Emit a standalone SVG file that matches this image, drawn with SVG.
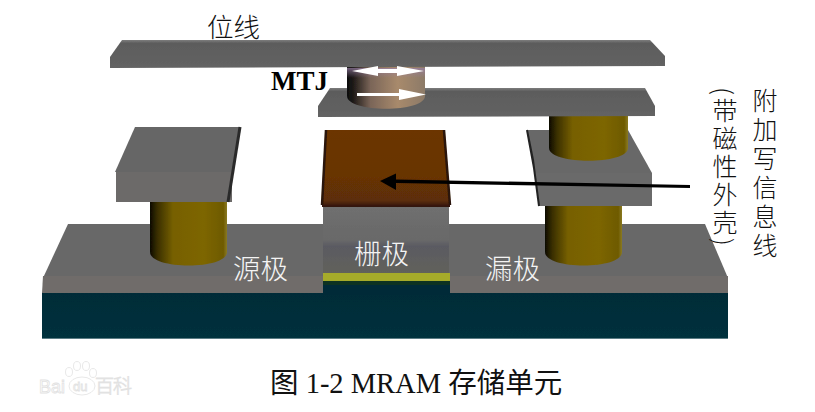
<svg xmlns="http://www.w3.org/2000/svg" width="815" height="412" viewBox="0 0 815 412">
<style>
.cjk{font-family:"Noto Sans CJK SC","Noto Sans CJK JP",sans-serif;font-weight:300}
.w{fill:#f4f4f4;font-size:27.500px}
.k{fill:#111}
.v{writing-mode:vertical-rl;font-size:25px;fill:#111}
.wm{fill:#fff;stroke:#e2e2e2;stroke-width:.8}
</style>
<defs>
<filter id="soft" x="-2%" y="-2%" width="104%" height="104%"><feGaussianBlur stdDeviation=".6"/></filter>
<linearGradient id="gold" x1="0" x2="1" y1="0" y2="0"><stop offset="0" stop-color="#0c0a02"/><stop offset=".1" stop-color="#3b3005"/><stop offset=".3" stop-color="#776000"/><stop offset=".7" stop-color="#7d6600"/><stop offset=".95" stop-color="#6e5a00"/><stop offset="1" stop-color="#8a7a20"/></linearGradient>
<linearGradient id="mtj" x1="0" x2="1" y1="0" y2="0"><stop offset="0" stop-color="#0d0d0d"/><stop offset=".08" stop-color="#1e1a18"/><stop offset=".3" stop-color="#7a6558"/><stop offset=".65" stop-color="#a88a6c"/><stop offset="1" stop-color="#8c7a68"/></linearGradient>
<linearGradient id="mtjv" x1="0" x2="0" y1="0" y2="1"><stop offset="0" stop-color="#9a80a8" stop-opacity=".7"/><stop offset=".45" stop-color="#9a80a8" stop-opacity="0"/></linearGradient>
<linearGradient id="brown" x1="0" x2="0" y1="0" y2="1"><stop offset="0" stop-color="#6c3505"/><stop offset=".6" stop-color="#683406"/><stop offset=".92" stop-color="#5c2d07"/><stop offset="1" stop-color="#2c1208"/></linearGradient>
<linearGradient id="bar" x1="0" x2="0" y1="0" y2="1"><stop offset="0" stop-color="#7d7d7d"/><stop offset=".12" stop-color="#5c5c5c"/><stop offset="1" stop-color="#636363"/></linearGradient>
<linearGradient id="teal" x1="0" x2="0" y1="0" y2="1"><stop offset="0" stop-color="#032c38"/><stop offset=".97" stop-color="#04303c"/><stop offset="1" stop-color="#8aa4ac"/></linearGradient>
<linearGradient id="gate" x1="0" x2="0" y1="0" y2="1"><stop offset="0" stop-color="#6f6f6f"/><stop offset=".5" stop-color="#696969"/><stop offset=".6" stop-color="#5a5a62"/><stop offset="1" stop-color="#62625a"/></linearGradient>
</defs>

<g filter="url(#soft)">
<g id="substrate">
<rect x="42" y="292" width="686" height="47" fill="url(#teal)"/>
<path d="M68 224H323V278H43Z" fill="#686868"/>
<path d="M43 276H323V293H42Z" fill="#6f6c6a"/>
<path d="M449 224H705L728 278H449Z" fill="#686868"/>
<path d="M449 276H728V293H449Z" fill="#6f6c6a"/>
</g>

<g id="gate">
<rect x="323" y="207" width="126" height="66" fill="url(#gate)"/>
<rect x="323" y="280" width="127" height="5" fill="#0f3320"/>
<rect x="323" y="285" width="127" height="10" fill="#032c38"/>
<rect x="323" y="273" width="127" height="8" fill="#a6ab2a"/>
<path d="M326 130H444L450 205V207H322V205Z" fill="url(#brown)"/>
<path d="M326 130L322 205M444 130L450 205" stroke="#2a1408" stroke-width="2.500" fill="none"/>
</g>

<g id="source-stack">
<path d="M150 200H227V252C227 270 150 270 150 252Z" fill="url(#gold)"/>
<path d="M135 127H240L233 172H115Z" fill="#666"/>
<rect x="116" y="172" width="116" height="30" fill="#6c6a69"/>
<path d="M240 127L228 202" stroke="#2b2b2b" stroke-width="3" fill="none"/>
</g>

<g id="drain-stack">
<path d="M545 205H622V252C622 270 545 270 545 252Z" fill="url(#gold)"/>
<path d="M527 130H628L652 173H535Z" fill="#686868"/>
<path d="M535 173H652V206H539Z" fill="#6a6a6a"/>
<path d="M527 130L533 160 539 206 534 168Z" fill="#222" stroke="#222" stroke-width="2"/>
<path d="M549 112H628V148C628 165 549 165 549 148Z" fill="url(#gold)"/>
</g>

<g id="write-strap">
<path d="M330 88H645L655 106V116L318 117V106Z" fill="url(#bar)"/>
</g>

<g id="mtj">
<path d="M347 66H425V96C425 113 347 113 347 96Z" fill="url(#mtj)"/>
<path d="M347 68H425V90H347Z" fill="url(#mtjv)"/>
</g>

<g id="bit-line">
<path d="M122 40H650L665 56V66L110 68V57Z" fill="url(#bar)"/>
</g>
</g>

<g id="connectors" fill="#fff">
<path d="M352 71L378 66V69H397V66L424 71 397 76V73H378V76Z"/>
<path d="M357 93H399V89L426 94.500 399 100V96H357Z"/>
<path d="M380 181L396 173.500V179.500L690 185V188L396 183V190Z" fill="#000"/>
</g>

<g id="labels">
<text class="cjk k" x="207" y="37" font-size="26.500">位线</text>
<text x="271" y="90" font-family="'Liberation Serif',serif" font-size="27" font-weight="700" fill="#000">MTJ</text>
<text class="cjk w" x="233" y="279">源极</text>
<text class="cjk w" x="354" y="264">栅极</text>
<text class="cjk w" x="485" y="279">漏极</text>
<text class="cjk v" x="765" y="88" letter-spacing="4">附加写信息线</text>
<text class="cjk v" x="725" y="87" letter-spacing="3">(带磁性外壳)</text>
<text class="k" x="270" y="393" font-size="28.500" font-family="'Liberation Serif','Noto Sans CJK SC',serif">图 1-2 MRAM 存储单元</text>
</g>

<g id="watermark">
<text class="wm" x="39" y="393" font-family="'Liberation Sans',sans-serif" font-size="18">Bai</text>
<ellipse class="wm" cx="82" cy="386" rx="13" ry="9"/>
<ellipse class="wm" cx="69" cy="372" rx="3.500" ry="4.500"/>
<ellipse class="wm" cx="77" cy="366" rx="3.500" ry="4.500"/>
<ellipse class="wm" cx="86" cy="366" rx="3.500" ry="4.500"/>
<ellipse class="wm" cx="93" cy="373" rx="3.500" ry="4.500"/>
<text class="wm" x="73" y="391" font-family="'Liberation Sans',sans-serif" font-size="13">du</text>
<text class="cjk wm" x="95" y="393" font-size="19" letter-spacing="-1">百科</text>
</g>
</svg>
